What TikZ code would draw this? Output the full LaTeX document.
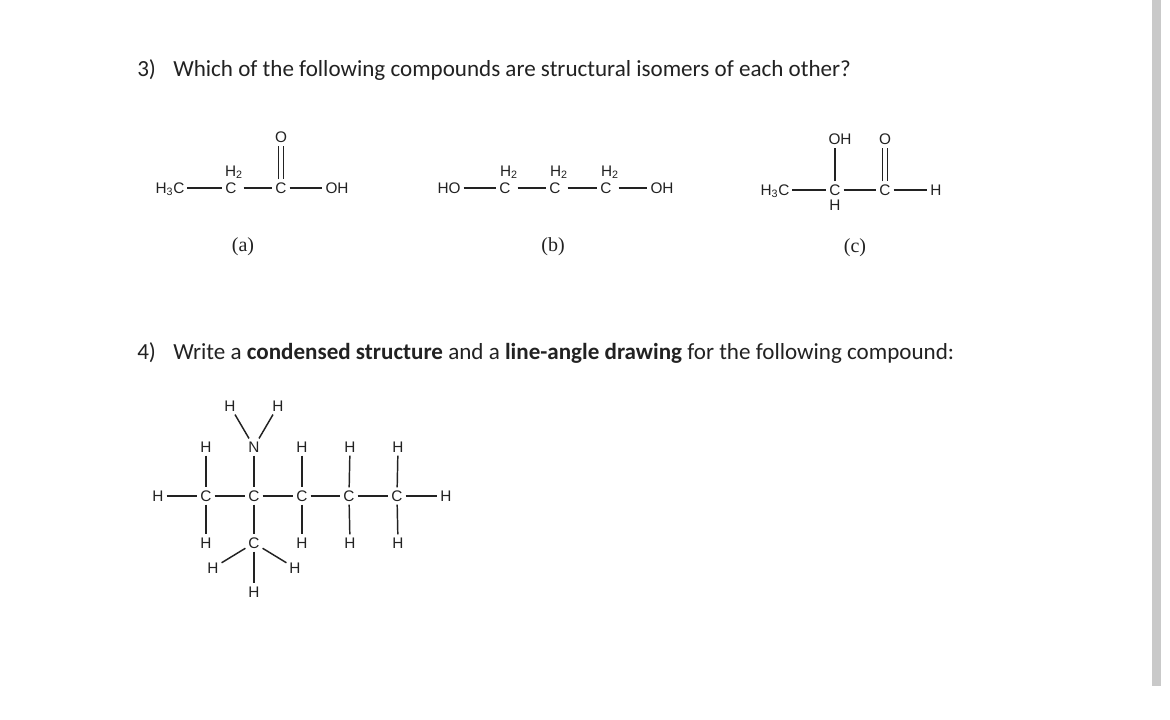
\documentclass[tikz,border=0pt]{standalone}
\usepackage{fontspec}
\setmainfont{Carlito}
\newfontfamily\chemfont{Liberation Sans}
\newfontfamily\labelfont{Liberation Serif}
\definecolor{ink}{HTML}{222222}
\definecolor{barcol}{HTML}{C9C9C9}
\tikzset{
  heading/.style={anchor=west,inner sep=0pt,text=ink,font=\fontsize{17.3}{20}\selectfont,text height=11pt,text depth=3pt},
  atom/.style={inner sep=2.1pt,text=ink,font=\chemfont\fontsize{11.5}{13}\selectfont,text height=8.2pt,text depth=0pt},
  caption/.style={inner sep=0pt,text=ink,font=\labelfont\fontsize{15}{17}\selectfont},
  bond/.style={draw=ink,line width=1.1pt},
  dbond/.style={draw=ink,line width=1.05pt,double=white,double distance=3.1pt},
}
\begin{document}
\begin{tikzpicture}[x=.75pt,y=-.75pt]
\useasboundingbox (0,0) rectangle (1170,719);
\fill[white] (0,0) rectangle (1170,719);
\fill[barcol] (1152,0) rectangle (1161,686);
% headings
\node[heading] (n3) at (137,71) {3)};
\node[heading] (q3) at (173,71) {Which of the following compounds are structural isomers of each other?};
\node[heading] (n4) at (137,354) {4)};
\node[heading] (q4) at (173,354) {Write a \textbf{condensed structure} and a \textbf{line-angle drawing} for the following compound:};
% (a)
\node[atom] (a1) at (170,188) {H\textsubscript{3}C};
\node[atom] (a2) at (231,188) {C};
\node[atom] (a2h) at (234,171) {H\textsubscript{2}};
\node[atom] (a3) at (281,188) {C};
\node[atom] (a4) at (281,137) {O};
\node[atom] (a5) at (337,188) {OH};
\node[caption] (acap) at (243,247) {(a)};
\draw[bond] (a1) -- (a2);
\draw[bond,shorten <=3pt] (a2) -- (a3);
\draw[bond] (a3) -- (a5);
\draw[dbond] (a3) -- (a4);
% (b)
\node[atom] (b1) at (449,188) {HO};
\node[atom] (b2) at (505,188) {C};
\node[atom] (b2h) at (509,171) {H\textsubscript{2}};
\node[atom] (b3) at (555,188) {C};
\node[atom] (b3h) at (559,171) {H\textsubscript{2}};
\node[atom] (b4) at (606,188) {C};
\node[atom] (b4h) at (610,171) {H\textsubscript{2}};
\node[atom] (b5) at (662,188) {OH};
\node[caption] (bcap) at (553,247) {(b)};
\draw[bond] (b1) -- (b2);
\draw[bond,shorten <=3pt] (b2) -- (b3);
\draw[bond,shorten <=3pt] (b3) -- (b4);
\draw[bond,shorten <=3pt] (b4) -- (b5);
% (c)
\node[atom] (c1) at (775,190) {H\textsubscript{3}C};
\node[atom] (c2) at (835,190) {C};
\node[atom] (c2h) at (835,205) {H};
\node[atom] (c3) at (840,139) {OH};
\node[atom] (c4) at (885,190) {C};
\node[atom] (c5) at (885,139) {O};
\node[atom] (c6) at (936,190) {H};
\node[caption] (ccap) at (855,248) {(c)};
\draw[bond] (c1) -- (c2);
\draw[bond] (c2) -- (c4);
\draw[bond] (c4) -- (c6);
\draw[bond] (c2) -- (c2 |- c3.south);
\draw[dbond] (c4) -- (c5);
% compound for question 4
\node[atom] (nh1) at (230,406) {H};
\node[atom] (nh2) at (278,406) {H};
\node[atom] (n) at (254,447) {N};
\node[atom] (t1) at (206,447) {H};
\node[atom] (t3) at (302,447) {H};
\node[atom] (t4) at (350,447) {H};
\node[atom] (t5) at (398,447) {H};
\node[atom] (hl) at (158,496) {H};
\node[atom] (m1) at (206,496) {C};
\node[atom] (m2) at (254,496) {C};
\node[atom] (m3) at (302,496) {C};
\node[atom] (m4) at (349,496) {C};
\node[atom] (m5) at (397,496) {C};
\node[atom] (hr) at (446,496) {H};
\node[atom] (d1) at (206,543) {H};
\node[atom] (d2) at (254,543) {C};
\node[atom] (d3) at (302,543) {H};
\node[atom] (d4) at (350,543) {H};
\node[atom] (d5) at (398,543) {H};
\node[atom] (e1) at (213,568) {H};
\node[atom] (e2) at (295,568) {H};
\node[atom] (e3) at (254,592) {H};
\draw[bond] (nh1) -- (n);
\draw[bond] (nh2) -- (n);
\draw[bond] (n) -- (m2);
\draw[bond] (t1) -- (m1);
\draw[bond] (t3) -- (m3);
\draw[bond] (t4) -- (m4);
\draw[bond] (t5) -- (m5);
\draw[bond] (hl) -- (m1);
\draw[bond] (m1) -- (m2);
\draw[bond] (m2) -- (m3);
\draw[bond] (m3) -- (m4);
\draw[bond] (m4) -- (m5);
\draw[bond] (m5) -- (hr);
\draw[bond] (m1) -- (d1);
\draw[bond] (m2) -- (d2);
\draw[bond] (m3) -- (d3);
\draw[bond] (m4) -- (d4);
\draw[bond] (m5) -- (d5);
\draw[bond] (d2) -- (e1);
\draw[bond] (d2) -- (e2);
\draw[bond] (d2) -- (e3);
\end{tikzpicture}
\end{document}
